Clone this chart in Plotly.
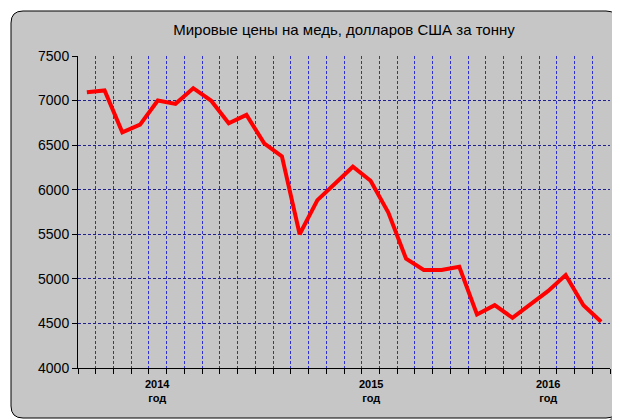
import plotly.graph_objects as go

prices = [7094, 7113, 6644, 6730, 7000, 6963, 7139, 7000, 6745, 6839,
          6520, 6374, 5500, 5883, 6070, 6258, 6100, 5744, 5226, 5099,
          5099, 5136, 4600, 4705, 4563, 4713, 4862, 5043, 4705, 4518]
year_labels = ["2014<br>год", "2015<br>год", "2016<br>год"]
year_pos = [4, 16, 26]
y_ticks = [4000, 4500, 5000, 5500, 6000, 6500, 7000, 7500]

x = [i + 0.5 for i in range(len(prices))]
W, H = 620, 420
L, R, T, B = 70, 18, 48, 60
pw, ph = W - L - R, H - T - B

fig = go.Figure(go.Scatter(x=x, y=prices, mode="lines",
                           line=dict(color="#ff0000", width=4), hoverinfo="skip"))

def px(v): return (v - L) / pw
def py(v): return (H - B - v) / ph

x0, x1, y0, y1, r = px(3), px(610), py(410), py(3), 12
rx, ry = r / pw, r / ph
path = (f"M {x0+rx},{y1} L {x1-rx},{y1} Q {x1},{y1} {x1},{y1-ry} L {x1},{y0+ry} "
        f"Q {x1},{y0} {x1-rx},{y0} L {x0+rx},{y0} Q {x0},{y0} {x0},{y0+ry} "
        f"L {x0},{y1-ry} Q {x0},{y1} {x0+rx},{y1} Z")
sh = (f"M {x0+rx+4/pw},{y0-4/ph} L {x1+4/pw-rx},{y0-4/ph} L {x1+4/pw},{y0+ry-4/ph} L {x1+4/pw},{y1-ry-4/ph}")
fig.add_shape(type="path", path=sh, xref="paper", yref="paper",
              line=dict(color="#888888", width=4), layer="below")
fig.add_shape(type="path", path=path, xref="paper", yref="paper",
              line=dict(color="#000000", width=1), fillcolor="#c6c6c6", layer="below")

for p, t in zip(year_pos, year_labels):
    fig.add_annotation(x=p + 0.5, y=0, xref="x", yref="paper", yanchor="top", yshift=-8,
                       text=f"<b>{t}</b>", showarrow=False,
                       font=dict(size=11, color="#000000", family="Liberation Sans"))

fig.update_layout(
    width=W, height=H, margin=dict(l=L, r=R, t=T, b=B),
    paper_bgcolor="white", plot_bgcolor="#c6c6c6",
    showlegend=False,
    font=dict(family="Liberation Sans", color="#000000"),
    title=dict(text="Мировые цены на медь, долларов США за тонну", x=0.5, xref="paper",
               y=1 - 22 / H, yanchor="middle", font=dict(size=15, color="#000000")),
    xaxis=dict(range=[0, 30], tickmode="linear", tick0=0, dtick=1, showticklabels=False,
               ticks="outside", ticklen=5, tickcolor="#000", showline=True, linecolor="#000",
               showgrid=True, gridcolor="#3030d0", griddash="3px,2px", gridwidth=1, zeroline=False),
    yaxis=dict(range=[4000, 7500], tickvals=y_ticks, ticks="outside", ticklen=5, tickcolor="#000",
               showline=True, linecolor="#000", showgrid=True, gridcolor="#202090",
               griddash="3px,2px", gridwidth=1, zeroline=False, tickfont=dict(size=14)),
)
fig.write_html("out.html")
